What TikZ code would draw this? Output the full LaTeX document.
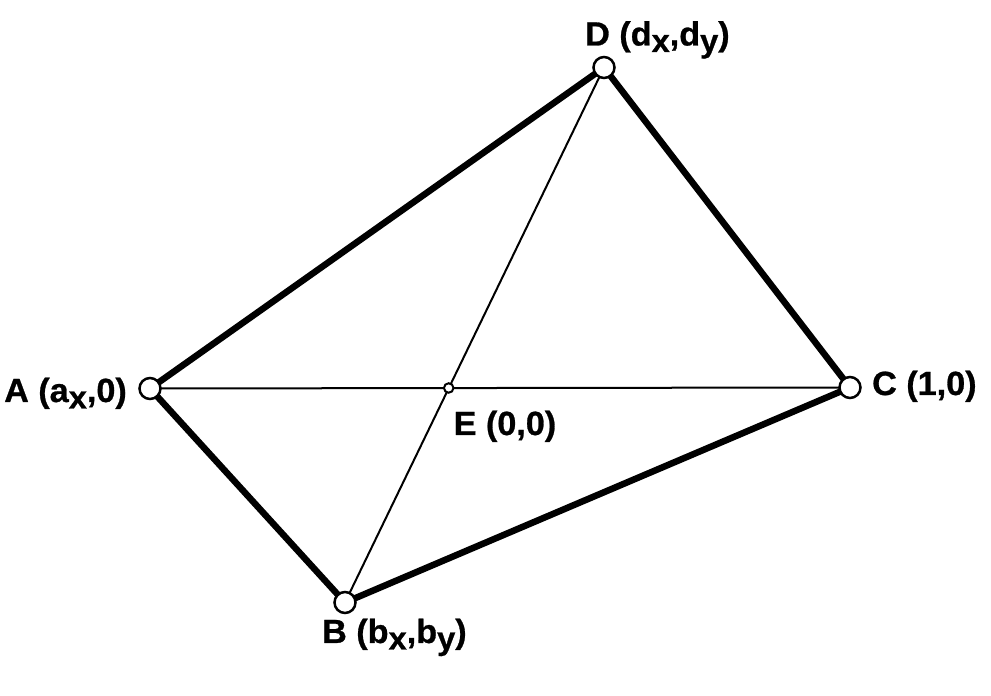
\documentclass[tikz,border=0pt]{standalone}
\usepackage{fontspec}
\setmainfont{Liberation Sans}[FakeStretch=1.02,FakeBold=0.8]
\newcommand{\lbsub}[1]{\raisebox{-6.5pt}{\fontsize{32}{34}\selectfont #1}}
\begin{document}
\begin{tikzpicture}[x=1pt,y=1pt,
  thickedge/.style={line width=6.5pt},
  thinedge/.style={line width=2pt},
  bigpt/.style={circle,draw,fill=white,line width=2.5pt,minimum size=21pt,inner sep=0pt},
  smallpt/.style={circle,draw,fill=white,line width=2pt,minimum size=9.5pt,inner sep=0pt},
  lbl/.style={inner sep=0pt,font=\fontsize{33.5}{38}\selectfont\bfseries}]
\useasboundingbox (0,0) rectangle (991,696);
\coordinate (a) at (150,307.5);
\coordinate (b) at (345,93.5);
\coordinate (c) at (850,308.5);
\coordinate (d) at (604,628.5);
\coordinate (e) at (448.7,308);
\draw[thinedge] (a) -- (c);
\draw[thinedge] (b) -- (d);
\draw[thickedge] (a) -- (d) -- (c) -- (b) -- cycle;
\node[bigpt] (A) at (a) {};
\node[bigpt] (B) at (b) {};
\node[bigpt] (C) at (c) {};
\node[bigpt] (D) at (d) {};
\node[smallpt] (E) at (e) {};
\node[lbl,anchor=base east] (LA) at (127,294) {A (a\lbsub{x},0)};
\node[lbl,anchor=base west] (LD) at (585,650.5) {D (d\lbsub{x},d\lbsub{y})};
\node[lbl,anchor=base west] (LE) at (453.5,261) {E (0,0)};
\node[lbl,anchor=base west] (LB) at (322,53) {B (b\lbsub{x},b\lbsub{y})};
\node[lbl,anchor=base west] (LC) at (872,301) {C (1,0)};
\end{tikzpicture}
\end{document}
